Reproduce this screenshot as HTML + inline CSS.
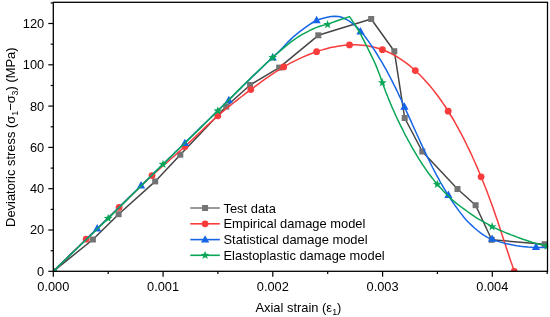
<!DOCTYPE html>
<html><head><meta charset="utf-8"><title>Stress-strain curves</title>
<style>
html,body{margin:0;padding:0;background:#fff;}
svg{display:block}
text{font-family:"Liberation Sans",sans-serif;font-size:12.8px;fill:#000}
</style></head><body>
<svg width="550" height="317" viewBox="0 0 550 317">
<rect width="550" height="317" fill="#fff"/>
<clipPath id="c"><rect x="53.3" y="2.3" width="494.8" height="269.3"/></clipPath>

<g clip-path="url(#c)">
<path d="M53.3,271.3 L92.9,239.5 L118.6,214.2 L155.2,181.4 L180.3,154.7 L226.2,106.5 L250.1,85.0 L279.2,67.6 L318.3,35.3 L371.2,19.0 L394.3,51.2 L404.7,118.0 L422.3,151.5 L457.5,189.0 L475.6,205.2 L491.7,239.8 L544.6,244.2" fill="none" stroke-linejoin="round" stroke="#454545" stroke-width="1.5"/>
<rect x="50.3" y="268.3" width="6.0" height="6.0" fill="#737373"/>
<rect x="89.9" y="236.5" width="6.0" height="6.0" fill="#737373"/>
<rect x="115.6" y="211.2" width="6.0" height="6.0" fill="#737373"/>
<rect x="152.2" y="178.4" width="6.0" height="6.0" fill="#737373"/>
<rect x="177.3" y="151.7" width="6.0" height="6.0" fill="#737373"/>
<rect x="223.2" y="103.5" width="6.0" height="6.0" fill="#737373"/>
<rect x="247.1" y="82.0" width="6.0" height="6.0" fill="#737373"/>
<rect x="276.2" y="64.6" width="6.0" height="6.0" fill="#737373"/>
<rect x="315.3" y="32.3" width="6.0" height="6.0" fill="#737373"/>
<rect x="368.2" y="16.0" width="6.0" height="6.0" fill="#737373"/>
<rect x="391.3" y="48.2" width="6.0" height="6.0" fill="#737373"/>
<rect x="401.7" y="115.0" width="6.0" height="6.0" fill="#737373"/>
<rect x="419.3" y="148.5" width="6.0" height="6.0" fill="#737373"/>
<rect x="454.5" y="186.0" width="6.0" height="6.0" fill="#737373"/>
<rect x="472.6" y="202.2" width="6.0" height="6.0" fill="#737373"/>
<rect x="488.7" y="236.8" width="6.0" height="6.0" fill="#737373"/>
<rect x="541.6" y="241.2" width="6.0" height="6.0" fill="#737373"/>
<path d="M53.3,271.3 L55.8,268.8 L58.3,266.4 L60.8,263.9 L63.4,261.4 L65.9,259.0 L68.4,256.5 L70.9,254.0 L73.4,251.6 L76.0,249.1 L78.5,246.7 L81.0,244.2 L83.5,241.8 L86.1,239.3 L88.6,236.9 L91.1,234.4 L93.7,232.0 L96.2,229.5 L98.8,227.1 L101.3,224.7 L103.8,222.2 L106.4,219.8 L108.9,217.3 L111.4,214.9 L114.0,212.4 L116.5,210.0 L119.0,207.5 L121.5,205.0 L124.0,202.6 L126.5,200.1 L129.0,197.6 L131.6,195.1 L134.1,192.7 L136.6,190.2 L139.1,187.7 L141.7,185.3 L144.2,182.9 L146.8,180.4 L149.3,178.0 L151.9,175.7 L154.5,173.3 L157.2,170.9 L159.8,168.6 L162.4,166.3 L165.1,164.0 L167.8,161.7 L170.4,159.3 L173.1,157.0 L175.7,154.7 L178.4,152.4 L181.0,150.0 L183.6,147.7 L186.2,145.3 L188.8,142.9 L191.4,140.5 L193.9,138.1 L196.5,135.6 L199.0,133.2 L201.6,130.8 L204.1,128.4 L206.7,125.9 L209.3,123.5 L211.9,121.2 L214.5,118.8 L217.1,116.4 L219.8,114.1 L222.4,111.9 L225.1,109.6 L227.9,107.4 L230.6,105.1 L233.4,103.0 L236.1,100.8 L238.9,98.6 L241.7,96.5 L244.5,94.3 L247.3,92.2 L250.2,90.1 L253.0,88.0 L255.8,85.9 L258.6,83.8 L261.5,81.7 L264.3,79.6 L267.2,77.6 L270.1,75.6 L273.0,73.6 L276.0,71.7 L279.0,69.8 L282.0,67.9 L285.0,66.1 L288.1,64.4 L291.2,62.7 L294.3,61.1 L297.5,59.6 L300.6,58.1 L303.9,56.6 L307.1,55.3 L310.4,54.0 L313.7,52.7 L317.1,51.5 L320.4,50.4 L323.8,49.4 L327.2,48.5 L330.6,47.6 L334.1,46.9 L337.6,46.2 L341.1,45.7 L344.6,45.3 L348.1,45.0 L351.6,44.8 L355.2,44.8 L358.7,44.9 L362.3,45.2 L365.8,45.6 L369.3,46.2 L372.8,46.9 L376.2,47.7 L379.6,48.7 L382.9,49.9 L386.2,51.2 L389.4,52.7 L392.6,54.3 L395.7,56.0 L398.7,57.8 L401.7,59.8 L404.6,61.8 L407.4,63.9 L410.2,66.2 L412.9,68.5 L415.6,70.8 L418.1,73.3 L420.7,75.7 L423.1,78.3 L425.5,80.9 L427.9,83.5 L430.2,86.2 L432.4,88.9 L434.6,91.7 L436.8,94.5 L438.8,97.3 L440.9,100.2 L442.9,103.1 L444.9,106.0 L446.8,109.0 L448.7,112.0 L450.5,115.0 L452.4,118.0 L454.2,121.0 L455.9,124.1 L457.6,127.2 L459.3,130.3 L461.0,133.4 L462.6,136.5 L464.2,139.7 L465.8,142.8 L467.3,146.0 L468.9,149.2 L470.4,152.3 L471.9,155.5 L473.3,158.8 L474.8,162.0 L476.2,165.2 L477.6,168.4 L479.0,171.7 L480.3,174.9 L481.7,178.2 L483.0,181.5 L484.3,184.7 L485.6,188.0 L486.9,191.3 L488.1,194.6 L489.4,197.9 L490.6,201.2 L491.8,204.5 L493.0,207.8 L494.1,211.1 L495.3,214.5 L496.4,217.8 L497.6,221.1 L498.7,224.5 L499.8,227.8 L500.9,231.2 L502.0,234.5 L503.1,237.9 L504.2,241.2 L505.3,244.6 L506.4,247.9 L507.5,251.2 L508.6,254.6 L509.7,257.9 L510.8,261.3 L512.0,264.6 L513.1,268.0 L514.2,271.3" fill="none" stroke-linejoin="round" stroke="#f83b3b" stroke-width="1.5"/>
<circle cx="53.3" cy="271.3" r="3.4" fill="#f83b3b"/>
<circle cx="86.2" cy="239.2" r="3.4" fill="#f83b3b"/>
<circle cx="119.1" cy="207.4" r="3.4" fill="#f83b3b"/>
<circle cx="152.0" cy="175.6" r="3.4" fill="#f83b3b"/>
<circle cx="184.9" cy="146.5" r="3.4" fill="#f83b3b"/>
<circle cx="217.8" cy="115.8" r="3.4" fill="#f83b3b"/>
<circle cx="250.8" cy="89.6" r="3.4" fill="#f83b3b"/>
<circle cx="283.7" cy="66.9" r="3.4" fill="#f83b3b"/>
<circle cx="316.6" cy="51.7" r="3.4" fill="#f83b3b"/>
<circle cx="349.5" cy="44.9" r="3.4" fill="#f83b3b"/>
<circle cx="382.4" cy="49.7" r="3.4" fill="#f83b3b"/>
<circle cx="415.3" cy="70.6" r="3.4" fill="#f83b3b"/>
<circle cx="448.2" cy="111.2" r="3.4" fill="#f83b3b"/>
<circle cx="481.1" cy="176.8" r="3.4" fill="#f83b3b"/>
<circle cx="514.2" cy="271.3" r="3.4" fill="#f83b3b"/>
<path d="M53.3,271.3 L56.1,268.6 L58.8,265.9 L61.6,263.2 L64.4,260.5 L67.2,257.8 L69.9,255.1 L72.7,252.4 L75.5,249.7 L78.3,247.0 L81.0,244.3 L83.8,241.7 L86.6,239.0 L89.3,236.3 L92.1,233.6 L94.9,230.9 L97.6,228.2 L100.4,225.5 L103.2,222.8 L106.0,220.1 L108.7,217.4 L111.5,214.7 L114.3,212.0 L117.0,209.3 L119.8,206.6 L122.6,203.9 L125.3,201.1 L128.1,198.4 L130.8,195.7 L133.6,193.0 L136.4,190.3 L139.1,187.6 L141.9,184.9 L144.7,182.2 L147.4,179.5 L150.2,176.8 L152.9,174.1 L155.7,171.4 L158.5,168.7 L161.2,166.0 L164.0,163.3 L166.8,160.6 L169.5,157.9 L172.3,155.2 L175.0,152.4 L177.8,149.7 L180.6,147.0 L183.3,144.3 L186.1,141.6 L188.9,138.9 L191.6,136.2 L194.4,133.5 L197.2,130.8 L199.9,128.1 L202.7,125.4 L205.5,122.7 L208.2,120.0 L211.0,117.3 L213.8,114.6 L216.5,111.9 L219.3,109.2 L222.1,106.5 L224.8,103.8 L227.6,101.1 L230.3,98.4 L233.1,95.7 L235.9,93.0 L238.6,90.3 L241.4,87.6 L244.1,84.8 L246.9,82.1 L249.7,79.4 L252.4,76.7 L255.2,74.1 L258.0,71.4 L260.8,68.7 L263.6,66.0 L266.4,63.3 L269.2,60.7 L272.0,58.0 L274.8,55.3 L277.6,52.7 L280.4,50.0 L283.1,47.2 L285.7,44.4 L288.4,41.6 L291.2,38.9 L294.0,36.3 L297.0,33.8 L300.0,31.4 L303.1,29.1 L306.2,26.8 L309.4,24.6 L312.7,22.5 L316.1,20.6 L319.6,19.2 L323.4,18.2 L327.2,17.3 L331.0,16.6 L334.8,16.3 L338.7,16.6 L342.5,17.6 L346.0,19.2 L349.3,21.2 L352.5,23.5 L355.4,25.9 L358.3,28.6 L360.9,31.5 L363.4,34.4 L365.7,37.5 L368.0,40.6 L370.2,43.8 L372.4,47.0 L374.5,50.2 L376.6,53.5 L378.6,56.8 L380.6,60.1 L382.6,63.4 L384.5,66.8 L386.4,70.2 L388.2,73.6 L390.0,77.0 L391.8,80.4 L393.5,83.9 L395.3,87.3 L397.0,90.8 L398.6,94.3 L400.3,97.8 L401.9,101.3 L403.5,104.8 L405.1,108.3 L406.7,111.9 L408.3,115.4 L409.9,118.9 L411.5,122.4 L413.1,126.0 L414.7,129.5 L416.3,133.0 L417.9,136.5 L419.5,140.0 L421.1,143.6 L422.7,147.1 L424.3,150.6 L426.0,154.1 L427.7,157.6 L429.4,161.0 L431.1,164.5 L432.8,168.0 L434.6,171.4 L436.4,174.8 L438.3,178.2 L440.1,181.6 L442.0,185.0 L444.0,188.3 L446.0,191.6 L448.0,194.9 L450.1,198.2 L452.2,201.4 L454.4,204.6 L456.7,207.7 L458.9,210.9 L461.3,213.9 L463.7,217.0 L466.2,219.9 L468.9,222.7 L471.7,225.4 L474.5,228.0 L477.5,230.5 L480.5,232.9 L483.7,235.2 L487.0,237.1 L490.5,238.8 L494.1,240.1 L497.8,241.4 L501.5,242.4 L505.3,243.4 L509.1,244.2 L512.9,245.0 L516.7,245.7 L520.5,246.3 L524.3,246.7 L528.2,247.1 L532.0,247.3 L535.9,247.4 L539.8,247.5 L543.6,247.5 L547.5,247.5" fill="none" stroke-linejoin="round" stroke="#1565e6" stroke-width="1.5"/>
<polygon points="53.3,266.9 49.2,274.3 57.4,274.3" fill="#1565e6"/>
<polygon points="97.2,224.1 93.1,231.5 101.3,231.5" fill="#1565e6"/>
<polygon points="141.1,181.1 137.0,188.5 145.2,188.5" fill="#1565e6"/>
<polygon points="184.9,138.7 180.8,146.1 189.0,146.1" fill="#1565e6"/>
<polygon points="228.8,95.8 224.7,103.2 232.9,103.2" fill="#1565e6"/>
<polygon points="272.7,53.1 268.6,60.5 276.8,60.5" fill="#1565e6"/>
<polygon points="316.6,15.8 312.5,23.2 320.7,23.2" fill="#1565e6"/>
<polygon points="360.5,27.1 356.4,34.5 364.6,34.5" fill="#1565e6"/>
<polygon points="404.4,102.3 400.3,109.7 408.5,109.7" fill="#1565e6"/>
<polygon points="448.4,190.5 444.3,197.9 452.5,197.9" fill="#1565e6"/>
<polygon points="492.1,234.4 488.0,241.8 496.2,241.8" fill="#1565e6"/>
<polygon points="536.0,242.5 531.9,249.9 540.1,249.9" fill="#1565e6"/>
<path d="M53.3,271.3 L57.0,267.8 L60.6,264.3 L64.3,260.8 L67.9,257.3 L71.5,253.8 L75.2,250.3 L78.8,246.8 L82.5,243.3 L86.1,239.8 L89.8,236.2 L93.4,232.7 L97.0,229.2 L100.6,225.7 L104.3,222.1 L107.9,218.6 L111.5,215.1 L115.1,211.5 L118.7,208.0 L122.3,204.4 L125.9,200.9 L129.5,197.3 L133.1,193.8 L136.7,190.2 L140.3,186.6 L143.9,183.1 L147.5,179.5 L151.1,176.0 L154.7,172.4 L158.3,168.9 L161.9,165.4 L165.5,161.8 L169.2,158.3 L172.8,154.8 L176.4,151.2 L180.0,147.7 L183.7,144.2 L187.3,140.7 L190.9,137.2 L194.6,133.6 L198.2,130.1 L201.8,126.6 L205.4,123.0 L209.0,119.5 L212.7,115.9 L216.2,112.4 L219.8,108.8 L223.4,105.2 L227.0,101.7 L230.6,98.1 L234.1,94.5 L237.7,90.9 L241.3,87.4 L244.9,83.8 L248.5,80.3 L252.1,76.7 L255.8,73.2 L259.4,69.7 L263.1,66.3 L266.8,62.8 L270.6,59.4 L274.3,56.0 L278.1,52.7 L282.0,49.4 L285.8,46.1 L289.7,42.9 L293.8,39.9 L298.0,37.0 L302.3,34.4 L306.8,32.1 L311.3,29.7 L315.9,27.6 L320.6,26.0 L325.5,24.6 L330.4,23.1 L335.1,21.5 L339.9,19.8 L344.7,18.2 L349.5,16.6 L349.5,16.6 L351.2,19.2 L352.9,21.8 L354.7,24.4 L356.3,27.0 L358.0,29.7 L359.5,32.4 L361.1,35.1 L362.5,37.9 L363.9,40.6 L365.3,43.4 L366.7,46.2 L368.1,49.0 L369.5,51.8 L370.9,54.6 L372.2,57.4 L373.6,60.2 L374.9,63.0 L376.1,65.9 L377.3,68.8 L378.4,71.7 L379.5,74.6 L380.6,77.5 L381.6,80.5 L382.7,83.4 L383.7,86.3 L384.8,89.3 L385.9,92.2 L387.1,95.1 L388.2,98.0 L389.4,100.9 L390.6,103.7 L391.8,106.6 L393.1,109.5 L394.3,112.3 L395.6,115.2 L396.9,118.0 L398.3,120.8 L399.6,123.6 L401.0,126.4 L402.4,129.2 L403.8,132.0 L405.2,134.8 L406.7,137.5 L408.2,140.3 L409.7,143.0 L411.2,145.8 L412.7,148.5 L414.3,151.2 L415.9,153.9 L417.5,156.6 L419.1,159.2 L420.8,161.9 L422.5,164.5 L424.3,167.1 L426.0,169.6 L427.8,172.2 L429.7,174.7 L431.6,177.2 L433.5,179.6 L435.4,182.1 L437.4,184.5 L439.5,186.8 L441.6,189.1 L443.7,191.4 L445.9,193.7 L448.1,195.9 L450.3,198.0 L452.6,200.1 L455.0,202.1 L457.4,204.1 L459.9,206.0 L462.4,207.9 L464.9,209.7 L467.4,211.5 L470.0,213.3 L472.5,215.1 L475.1,216.9 L477.7,218.6 L480.4,220.1 L483.2,221.6 L485.9,223.1 L488.7,224.6 L491.4,226.1 L494.1,227.6 L496.9,228.9 L499.7,230.2 L502.6,231.4 L505.5,232.6 L508.4,233.7 L511.3,234.9 L514.3,236.0 L517.2,237.1 L520.1,238.2 L523.0,239.3 L526.0,240.3 L528.9,241.3 L531.9,242.3 L534.9,243.1 L537.9,243.9 L540.9,244.6 L544.0,245.3 L547.0,246.0" fill="none" stroke-linejoin="round" stroke="#0aa657" stroke-width="1.5"/>
<polygon points="53.3,266.7 54.4,269.8 57.7,269.9 55.1,271.9 56.0,275.0 53.3,273.2 50.6,275.0 51.5,271.9 48.9,269.9 52.2,269.8" fill="#0aa657"/>
<polygon points="108.2,213.7 109.3,216.8 112.6,216.9 110.0,218.9 110.9,222.0 108.2,220.2 105.5,222.0 106.4,218.9 103.8,216.9 107.1,216.8" fill="#0aa657"/>
<polygon points="163.0,159.7 164.1,162.8 167.4,162.9 164.8,164.9 165.7,168.0 163.0,166.2 160.3,168.0 161.2,164.9 158.6,162.9 161.9,162.8" fill="#0aa657"/>
<polygon points="217.8,106.2 219.0,109.3 222.2,109.4 219.7,111.4 220.6,114.5 217.8,112.7 215.1,114.5 216.0,111.4 213.5,109.4 216.7,109.3" fill="#0aa657"/>
<polygon points="272.7,52.9 273.8,56.0 277.1,56.1 274.5,58.1 275.4,61.2 272.7,59.4 270.0,61.2 270.9,58.1 268.3,56.1 271.6,56.0" fill="#0aa657"/>
<polygon points="327.6,19.9 328.7,23.0 332.0,23.1 329.4,25.1 330.3,28.2 327.6,26.4 324.9,28.2 325.8,25.1 323.2,23.1 326.5,23.0" fill="#0aa657"/>
<polygon points="382.4,78.1 383.5,81.2 386.8,81.3 384.2,83.3 385.1,86.4 382.4,84.6 379.7,86.4 380.6,83.3 378.0,81.3 381.3,81.2" fill="#0aa657"/>
<polygon points="437.3,179.7 438.4,182.8 441.7,182.9 439.1,184.9 440.0,188.0 437.3,186.2 434.6,188.0 435.5,184.9 432.9,182.9 436.2,182.8" fill="#0aa657"/>
<polygon points="492.1,222.1 493.2,225.2 496.5,225.3 493.9,227.3 494.8,230.4 492.1,228.6 489.4,230.4 490.3,227.3 487.7,225.3 491.0,225.2" fill="#0aa657"/>
<polygon points="547.0,241.4 548.1,244.5 551.4,244.6 548.8,246.6 549.7,249.7 547.0,247.9 544.3,249.7 545.2,246.6 542.6,244.6 545.9,244.5" fill="#0aa657"/>
</g>
<rect x="53.3" y="2.3" width="494.2" height="269.0" fill="none" stroke="#000" stroke-width="1.3"/>
<g stroke="#000" stroke-width="1.2">
<line x1="48.3" y1="271.3" x2="53.3" y2="271.3"/>
<line x1="50.699999999999996" y1="250.7" x2="53.3" y2="250.7"/>
<line x1="48.3" y1="230.0" x2="53.3" y2="230.0"/>
<line x1="50.699999999999996" y1="209.4" x2="53.3" y2="209.4"/>
<line x1="48.3" y1="188.7" x2="53.3" y2="188.7"/>
<line x1="50.699999999999996" y1="168.1" x2="53.3" y2="168.1"/>
<line x1="48.3" y1="147.4" x2="53.3" y2="147.4"/>
<line x1="50.699999999999996" y1="126.8" x2="53.3" y2="126.8"/>
<line x1="48.3" y1="106.1" x2="53.3" y2="106.1"/>
<line x1="50.699999999999996" y1="85.5" x2="53.3" y2="85.5"/>
<line x1="48.3" y1="64.8" x2="53.3" y2="64.8"/>
<line x1="50.699999999999996" y1="44.2" x2="53.3" y2="44.2"/>
<line x1="48.3" y1="23.5" x2="53.3" y2="23.5"/>
<line x1="50.699999999999996" y1="2.9" x2="53.3" y2="2.9"/>
<line x1="53.3" y1="271.3" x2="53.3" y2="276.8"/>
<line x1="108.2" y1="271.3" x2="108.2" y2="274.1"/>
<line x1="163.1" y1="271.3" x2="163.1" y2="276.8"/>
<line x1="217.9" y1="271.3" x2="217.9" y2="274.1"/>
<line x1="272.8" y1="271.3" x2="272.8" y2="276.8"/>
<line x1="327.7" y1="271.3" x2="327.7" y2="274.1"/>
<line x1="382.6" y1="271.3" x2="382.6" y2="276.8"/>
<line x1="437.4" y1="271.3" x2="437.4" y2="274.1"/>
<line x1="492.3" y1="271.3" x2="492.3" y2="276.8"/>
<line x1="547.2" y1="271.3" x2="547.2" y2="274.1"/>
</g>
<text x="44.2" y="275.7" text-anchor="end">0</text>
<text x="44.2" y="234.4" text-anchor="end">20</text>
<text x="44.2" y="193.1" text-anchor="end">40</text>
<text x="44.2" y="151.8" text-anchor="end">60</text>
<text x="44.2" y="110.5" text-anchor="end">80</text>
<text x="44.2" y="69.2" text-anchor="end">100</text>
<text x="44.2" y="27.9" text-anchor="end">120</text>
<text x="53.3" y="290.8" text-anchor="middle">0.000</text>
<text x="163.1" y="290.8" text-anchor="middle">0.001</text>
<text x="272.8" y="290.8" text-anchor="middle">0.002</text>
<text x="382.6" y="290.8" text-anchor="middle">0.003</text>
<text x="492.3" y="290.8" text-anchor="middle">0.004</text>
<text x="298.4" y="312" text-anchor="middle" style="font-size:12.9px">Axial strain (ε<tspan font-size="8.8" dy="3">1</tspan><tspan dy="-3">)</tspan></text>
<text transform="translate(15.2,137.2) rotate(-90)" text-anchor="middle" style="font-size:12.9px">Deviatoric stress (σ<tspan font-size="8.8" dy="3">1</tspan><tspan dy="-3">−σ</tspan><tspan font-size="8.8" dy="3">3</tspan><tspan dy="-3">) (MPa)</tspan></text>
<line x1="190.3" y1="208.0" x2="219.8" y2="208.0" stroke="#808080" stroke-width="1.6"/>
<rect x="202.1" y="205.0" width="6.0" height="6.0" fill="#737373"/>
<text x="223.5" y="212.6" style="font-size:12.9px">Test data</text>
<line x1="190.3" y1="223.8" x2="219.8" y2="223.8" stroke="#f83b3b" stroke-width="1.6"/>
<circle cx="205.1" cy="223.8" r="3.4" fill="#f83b3b"/>
<text x="223.5" y="228.4" style="font-size:12.9px">Empirical damage model</text>
<line x1="190.3" y1="239.6" x2="219.8" y2="239.6" stroke="#1565e6" stroke-width="1.6"/>
<polygon points="205.1,235.2 201.0,242.6 209.2,242.6" fill="#1565e6"/>
<text x="223.5" y="244.2" style="font-size:12.9px">Statistical damage model</text>
<line x1="190.3" y1="255.3" x2="219.8" y2="255.3" stroke="#0aa657" stroke-width="1.6"/>
<polygon points="205.1,250.7 206.2,253.8 209.5,253.9 206.9,255.9 207.8,259.0 205.1,257.2 202.4,259.0 203.3,255.9 200.7,253.9 204.0,253.8" fill="#0aa657"/>
<text x="223.5" y="259.9" style="font-size:12.9px">Elastoplastic damage model</text>
</svg></body></html>
